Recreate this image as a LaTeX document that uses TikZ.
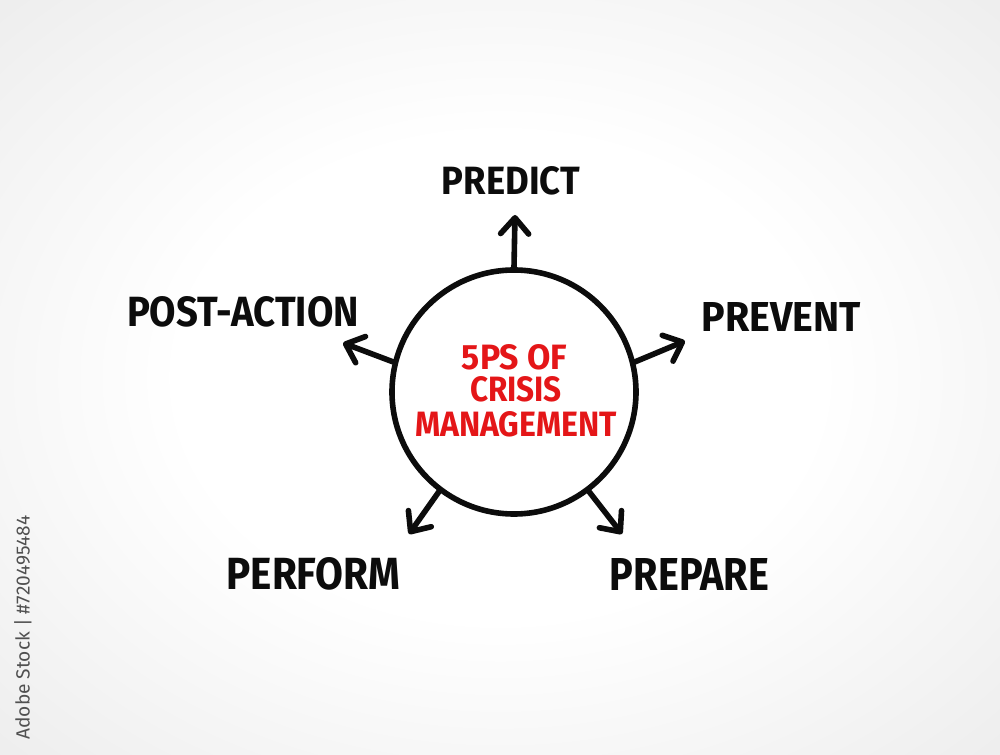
\documentclass[tikz,border=0pt]{standalone}
\usepackage{fontspec}
\setmainfont{Fira Sans}
\usetikzlibrary{arrows.meta}
\definecolor{mred}{RGB}{228,22,24}
\definecolor{ink}{RGB}{12,12,12}
\definecolor{wmark}{RGB}{80,80,80}
\pgfdeclareradialshading{bgshade}{\pgfpoint{0bp}{0bp}}{color(0bp)=(white); color(16bp)=(white); color(50bp)=(black!12); color(80bp)=(black!17)}
\newcommand{\fitlbl}[3]{\resizebox{#1pt}{#2pt}{\bfseries #3}}
\begin{document}
\begin{tikzpicture}[x=0.75pt,y=-0.75pt,
  lbl/.style={inner sep=0pt, text=ink, anchor=center},
  ctr/.style={inner sep=0pt, text=mred, anchor=center},
  hub/.style={circle, draw=ink, line width=4.2pt, minimum size=183pt, inner sep=0pt},
  conn/.style={draw=ink, line width=4.2pt, line cap=round,
    -{Straight Barb[length=12pt,width=21pt,line cap=round,line join=round]}}]
\shade[shading=bgshade] (0,0) rectangle (1000,755);
\useasboundingbox (0,0) rectangle (1000,755);
% hub
\node[hub] (c) at (514,392) {};
\node[ctr] (t1) at (514.5,357.5) {\fitlbl{78.75}{18.75}{5PS OF}};
\node[ctr] (t2) at (516,389.5) {\fitlbl{69}{18.75}{CRISIS}};
\node[ctr] (t3) at (516,424.5) {\fitlbl{151.5}{18.75}{MANAGEMENT}};
% labels
\node[lbl] (predict) at (511,181) {\fitlbl{103.5}{21}{PREDICT}};
\node[lbl] (post) at (243,312) {\fitlbl{174}{22.5}{POST-ACTION}};
\node[lbl] (prevent) at (781,317.5) {\fitlbl{119.25}{21.75}{PREVENT}};
\node[lbl] (perform) at (313.5,574) {\fitlbl{130.5}{24}{PERFORM}};
\node[lbl] (prepare) at (689.5,574) {\fitlbl{119.25}{24}{PREPARE}};
% arrow tips
\coordinate (tUp) at (515,215);
\coordinate (tRight) at (685,341);
\coordinate (tLeft) at (343,343);
\coordinate (tBL) at (409,534);
\coordinate (tBR) at (622,534);
\draw[conn] (c.90) -- (tUp);
\draw[conn] (c.14) -- (tRight);
\draw[conn] (c.166) -- (tLeft);
\draw[conn] (c.233) -- (tBL);
\draw[conn] (c.307) -- (tBR);
% stock id strip
\node[inner sep=0pt, text=wmark, rotate=90, anchor=center] (wm) at (23,627.5)
  {\resizebox{168pt}{!}{Adobe Stock | \#720495484}};
\end{tikzpicture}
\end{document}
